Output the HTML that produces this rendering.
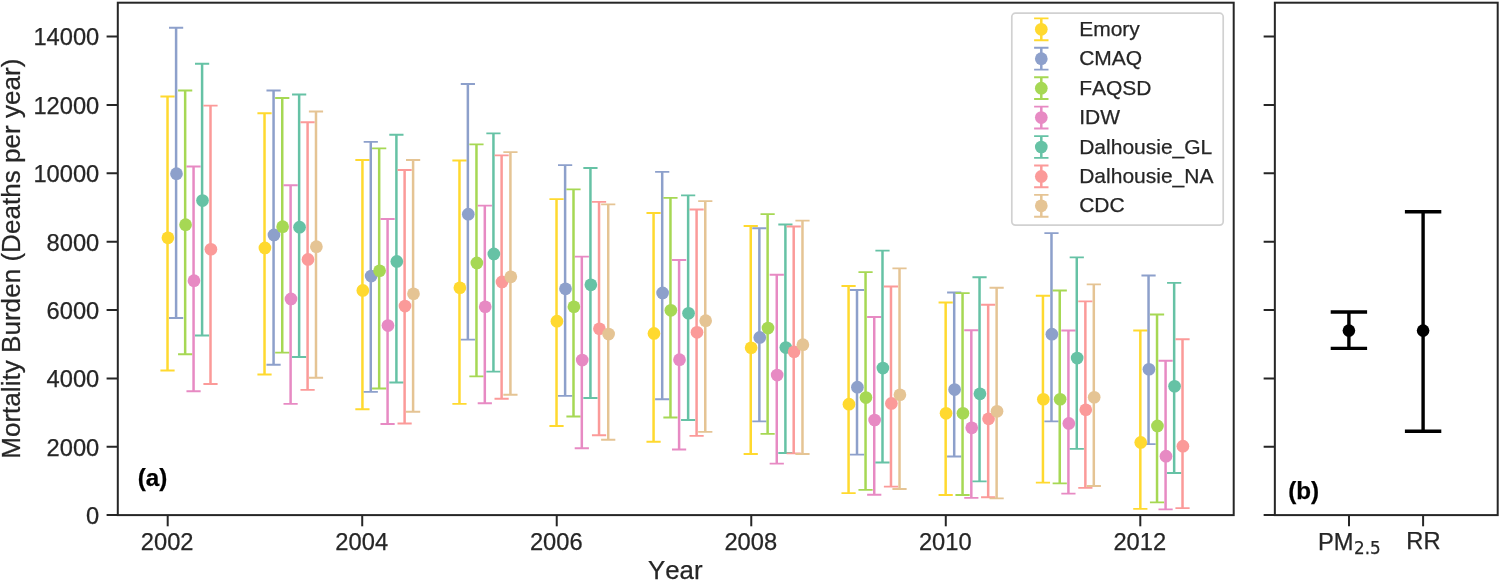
<!DOCTYPE html>
<html lang="en"><head><meta charset="utf-8"><title>Mortality Burden by Year</title>
<style>html,body{margin:0;padding:0;background:#fff;}body{width:1500px;height:581px;overflow:hidden;}svg{display:block;}text{stroke:#262626;stroke-width:0.25px;}text.b{stroke:#000;}</style>
</head><body>
<svg width="1500" height="581" viewBox="0 0 1500 581" font-family="'Liberation Sans', sans-serif" fill="#262626" style="font-kerning:none">
<rect x="0" y="0" width="1500" height="581" fill="#ffffff"/>
<g stroke="#ffd92f" stroke-width="2.5" fill="none">
<path d="M167.52 96.45V370.55"/>
<path d="M160.42 96.45H174.62M160.42 370.55H174.62" stroke-width="1.9"/>
<path d="M264.52 113.25V374.55"/>
<path d="M257.42 113.25H271.62M257.42 374.55H271.62" stroke-width="1.9"/>
<path d="M362.43 160.05V409.25"/>
<path d="M355.33 160.05H369.53M355.33 409.25H369.53" stroke-width="1.9"/>
<path d="M459.47 160.45V403.85"/>
<path d="M452.37 160.45H466.57M452.37 403.85H466.57" stroke-width="1.9"/>
<path d="M556.52 199.15V426.05"/>
<path d="M549.42 199.15H563.62M549.42 426.05H563.62" stroke-width="1.9"/>
<path d="M653.57 213.05V441.75"/>
<path d="M646.47 213.05H660.67M646.47 441.75H660.67" stroke-width="1.9"/>
<path d="M750.73 226.05V454.05"/>
<path d="M743.63 226.05H757.83M743.63 454.05H757.83" stroke-width="1.9"/>
<path d="M848.57 285.95V493.15"/>
<path d="M841.47 285.95H855.67M841.47 493.15H855.67" stroke-width="1.9"/>
<path d="M945.66 302.55V494.95"/>
<path d="M938.56 302.55H952.76M938.56 494.95H952.76" stroke-width="1.9"/>
<path d="M1042.94 295.75V482.65"/>
<path d="M1035.84 295.75H1050.04M1035.84 482.65H1050.04" stroke-width="1.9"/>
<path d="M1140.33 330.55V508.85"/>
<path d="M1133.23 330.55H1147.43M1133.23 508.85H1147.43" stroke-width="1.9"/>
</g>
<g stroke="#8da0cb" stroke-width="2.5" fill="none">
<path d="M176.10 27.75V317.95"/>
<path d="M169.00 27.75H183.20M169.00 317.95H183.20" stroke-width="1.9"/>
<path d="M273.57 90.45V364.75"/>
<path d="M266.47 90.45H280.67M266.47 364.75H280.67" stroke-width="1.9"/>
<path d="M370.78 141.85V391.85"/>
<path d="M363.68 141.85H377.88M363.68 391.85H377.88" stroke-width="1.9"/>
<path d="M467.87 83.95V339.65"/>
<path d="M460.77 83.95H474.97M460.77 339.65H474.97" stroke-width="1.9"/>
<path d="M565.11 165.15V395.85"/>
<path d="M558.01 165.15H572.21M558.01 395.85H572.21" stroke-width="1.9"/>
<path d="M662.20 171.85V399.25"/>
<path d="M655.10 171.85H669.30M655.10 399.25H669.30" stroke-width="1.9"/>
<path d="M759.36 228.25V421.35"/>
<path d="M752.26 228.25H766.46M752.26 421.35H766.46" stroke-width="1.9"/>
<path d="M857.01 290.05V454.65"/>
<path d="M849.91 290.05H864.11M849.91 454.65H864.11" stroke-width="1.9"/>
<path d="M954.20 292.45V456.45"/>
<path d="M947.10 292.45H961.30M947.10 456.45H961.30" stroke-width="1.9"/>
<path d="M1051.48 233.15V421.35"/>
<path d="M1044.38 233.15H1058.58M1044.38 421.35H1058.58" stroke-width="1.9"/>
<path d="M1148.55 275.45V444.15"/>
<path d="M1141.45 275.45H1155.65M1141.45 444.15H1155.65" stroke-width="1.9"/>
</g>
<g stroke="#a6d854" stroke-width="2.5" fill="none">
<path d="M185.16 90.45V354.25"/>
<path d="M178.06 90.45H192.26M178.06 354.25H192.26" stroke-width="1.9"/>
<path d="M282.25 98.05V352.65"/>
<path d="M275.15 98.05H289.35M275.15 352.65H289.35" stroke-width="1.9"/>
<path d="M379.18 148.35V388.45"/>
<path d="M372.08 148.35H386.28M372.08 388.45H386.28" stroke-width="1.9"/>
<path d="M476.46 144.35V376.35"/>
<path d="M469.36 144.35H483.56M469.36 376.35H483.56" stroke-width="1.9"/>
<path d="M573.50 189.35V416.45"/>
<path d="M566.40 189.35H580.60M566.40 416.45H580.60" stroke-width="1.9"/>
<path d="M670.46 197.85V417.55"/>
<path d="M663.36 197.85H677.56M663.36 417.55H677.56" stroke-width="1.9"/>
<path d="M767.62 214.15V433.85"/>
<path d="M760.52 214.15H774.72M760.52 433.85H774.72" stroke-width="1.9"/>
<path d="M865.55 272.15V489.85"/>
<path d="M858.45 272.15H872.65M858.45 489.85H872.65" stroke-width="1.9"/>
<path d="M962.55 293.15V494.95"/>
<path d="M955.45 293.15H969.65M955.45 494.95H969.65" stroke-width="1.9"/>
<path d="M1059.74 290.45V483.35"/>
<path d="M1052.64 290.45H1066.84M1052.64 483.35H1066.84" stroke-width="1.9"/>
<path d="M1157.04 314.55V502.35"/>
<path d="M1149.94 314.55H1164.14M1149.94 502.35H1164.14" stroke-width="1.9"/>
</g>
<g stroke="#e78ac3" stroke-width="2.5" fill="none">
<path d="M193.56 166.45V391.25"/>
<path d="M186.46 166.45H200.66M186.46 391.25H200.66" stroke-width="1.9"/>
<path d="M290.60 185.25V403.85"/>
<path d="M283.50 185.25H297.70M283.50 403.85H297.70" stroke-width="1.9"/>
<path d="M387.58 219.05V424.05"/>
<path d="M380.48 219.05H394.68M380.48 424.05H394.68" stroke-width="1.9"/>
<path d="M484.81 205.65V403.25"/>
<path d="M477.71 205.65H491.91M477.71 403.25H491.91" stroke-width="1.9"/>
<path d="M581.81 256.65V448.25"/>
<path d="M574.71 256.65H588.91M574.71 448.25H588.91" stroke-width="1.9"/>
<path d="M679.09 259.95V449.55"/>
<path d="M671.99 259.95H686.19M671.99 449.55H686.19" stroke-width="1.9"/>
<path d="M776.76 274.75V463.65"/>
<path d="M769.66 274.75H783.86M769.66 463.65H783.86" stroke-width="1.9"/>
<path d="M874.23 317.05V494.75"/>
<path d="M867.13 317.05H881.33M867.13 494.75H881.33" stroke-width="1.9"/>
<path d="M971.32 330.25V497.85"/>
<path d="M964.22 330.25H978.42M964.22 497.85H978.42" stroke-width="1.9"/>
<path d="M1068.42 330.55V493.65"/>
<path d="M1061.32 330.55H1075.52M1061.32 493.65H1075.52" stroke-width="1.9"/>
<path d="M1165.58 360.75V509.35"/>
<path d="M1158.48 360.75H1172.68M1158.48 509.35H1172.68" stroke-width="1.9"/>
</g>
<g stroke="#66c2a5" stroke-width="2.5" fill="none">
<path d="M202.10 63.75V335.45"/>
<path d="M195.00 63.75H209.20M195.00 335.45H209.20" stroke-width="1.9"/>
<path d="M299.14 94.45V356.95"/>
<path d="M292.04 94.45H306.24M292.04 356.95H306.24" stroke-width="1.9"/>
<path d="M396.40 134.75V382.45"/>
<path d="M389.30 134.75H403.50M389.30 382.45H403.50" stroke-width="1.9"/>
<path d="M493.44 133.35V371.65"/>
<path d="M486.34 133.35H500.54M486.34 371.65H500.54" stroke-width="1.9"/>
<path d="M590.44 168.05V398.05"/>
<path d="M583.34 168.05H597.54M583.34 398.05H597.54" stroke-width="1.9"/>
<path d="M688.14 195.35V420.05"/>
<path d="M681.04 195.35H695.24M681.04 420.05H695.24" stroke-width="1.9"/>
<path d="M785.40 224.45V452.95"/>
<path d="M778.30 224.45H792.50M778.30 452.95H792.50" stroke-width="1.9"/>
<path d="M882.49 250.65V462.55"/>
<path d="M875.39 250.65H889.59M875.39 462.55H889.59" stroke-width="1.9"/>
<path d="M979.54 277.25V481.35"/>
<path d="M972.44 277.25H986.64M972.44 481.35H986.64" stroke-width="1.9"/>
<path d="M1076.77 257.35V448.85"/>
<path d="M1069.67 257.35H1083.87M1069.67 448.85H1083.87" stroke-width="1.9"/>
<path d="M1174.16 282.85V473.05"/>
<path d="M1167.06 282.85H1181.26M1167.06 473.05H1181.26" stroke-width="1.9"/>
</g>
<g stroke="#fb9a99" stroke-width="2.5" fill="none">
<path d="M210.50 105.65V383.95"/>
<path d="M203.40 105.65H217.60M203.40 383.95H217.60" stroke-width="1.9"/>
<path d="M307.59 122.25V389.85"/>
<path d="M300.49 122.25H314.69M300.49 389.85H314.69" stroke-width="1.9"/>
<path d="M404.61 170.05V423.55"/>
<path d="M397.51 170.05H411.71M397.51 423.55H411.71" stroke-width="1.9"/>
<path d="M501.61 155.35V398.75"/>
<path d="M494.51 155.35H508.71M494.51 398.75H508.71" stroke-width="1.9"/>
<path d="M599.03 201.85V435.25"/>
<path d="M591.93 201.85H606.13M591.93 435.25H606.13" stroke-width="1.9"/>
<path d="M696.59 209.45V435.85"/>
<path d="M689.49 209.45H703.69M689.49 435.85H703.69" stroke-width="1.9"/>
<path d="M793.70 226.45V453.35"/>
<path d="M786.60 226.45H800.80M786.60 453.35H800.80" stroke-width="1.9"/>
<path d="M890.98 286.45V486.65"/>
<path d="M883.88 286.45H898.08M883.88 486.65H898.08" stroke-width="1.9"/>
<path d="M988.17 304.75V497.25"/>
<path d="M981.07 304.75H995.27M981.07 497.25H995.27" stroke-width="1.9"/>
<path d="M1085.36 301.35V487.85"/>
<path d="M1078.26 301.35H1092.46M1078.26 487.85H1092.46" stroke-width="1.9"/>
<path d="M1182.52 339.25V508.15"/>
<path d="M1175.42 339.25H1189.62M1175.42 508.15H1189.62" stroke-width="1.9"/>
</g>
<g stroke="#e5c494" stroke-width="2.5" fill="none">
<path d="M315.99 111.45V377.75"/>
<path d="M308.89 111.45H323.09M308.89 377.75H323.09" stroke-width="1.9"/>
<path d="M413.10 160.05V411.75"/>
<path d="M406.00 160.05H420.20M406.00 411.75H420.20" stroke-width="1.9"/>
<path d="M510.43 152.15V394.75"/>
<path d="M503.33 152.15H517.53M503.33 394.75H517.53" stroke-width="1.9"/>
<path d="M608.22 204.35V439.75"/>
<path d="M601.12 204.35H615.32M601.12 439.75H615.32" stroke-width="1.9"/>
<path d="M705.27 201.15V431.85"/>
<path d="M698.17 201.15H712.37M698.17 431.85H712.37" stroke-width="1.9"/>
<path d="M802.48 220.65V454.05"/>
<path d="M795.38 220.65H809.58M795.38 454.05H809.58" stroke-width="1.9"/>
<path d="M899.52 268.35V488.95"/>
<path d="M892.42 268.35H906.62M892.42 488.95H906.62" stroke-width="1.9"/>
<path d="M996.62 287.75V498.35"/>
<path d="M989.52 287.75H1003.72M989.52 498.35H1003.72" stroke-width="1.9"/>
<path d="M1093.80 284.35V486.05"/>
<path d="M1086.70 284.35H1100.90M1086.70 486.05H1100.90" stroke-width="1.9"/>
</g>
<g fill="#ffd92f">
<circle cx="167.92" cy="237.85" r="6.35"/>
<circle cx="264.92" cy="247.95" r="6.35"/>
<circle cx="362.83" cy="290.45" r="6.35"/>
<circle cx="459.87" cy="287.75" r="6.35"/>
<circle cx="556.92" cy="321.15" r="6.35"/>
<circle cx="653.97" cy="333.45" r="6.35"/>
<circle cx="751.13" cy="347.75" r="6.35"/>
<circle cx="848.97" cy="404.15" r="6.35"/>
<circle cx="946.06" cy="413.30" r="6.35"/>
<circle cx="1043.34" cy="399.25" r="6.35"/>
<circle cx="1140.73" cy="442.45" r="6.35"/>
</g>
<g fill="#8da0cb">
<circle cx="176.50" cy="173.65" r="6.35"/>
<circle cx="273.97" cy="234.95" r="6.35"/>
<circle cx="371.18" cy="276.05" r="6.35"/>
<circle cx="468.27" cy="214.15" r="6.35"/>
<circle cx="565.51" cy="288.85" r="6.35"/>
<circle cx="662.60" cy="292.95" r="6.35"/>
<circle cx="759.76" cy="337.45" r="6.35"/>
<circle cx="857.41" cy="387.15" r="6.35"/>
<circle cx="954.60" cy="389.55" r="6.35"/>
<circle cx="1051.88" cy="334.15" r="6.35"/>
<circle cx="1148.95" cy="369.25" r="6.35"/>
</g>
<g fill="#a6d854">
<circle cx="185.56" cy="224.65" r="6.35"/>
<circle cx="282.65" cy="226.65" r="6.35"/>
<circle cx="379.58" cy="270.75" r="6.35"/>
<circle cx="476.86" cy="262.95" r="6.35"/>
<circle cx="573.90" cy="306.75" r="6.35"/>
<circle cx="670.86" cy="310.35" r="6.35"/>
<circle cx="768.02" cy="328.05" r="6.35"/>
<circle cx="865.95" cy="397.55" r="6.35"/>
<circle cx="962.95" cy="413.25" r="6.35"/>
<circle cx="1060.14" cy="399.25" r="6.35"/>
<circle cx="1157.44" cy="425.95" r="6.35"/>
</g>
<g fill="#e78ac3">
<circle cx="193.96" cy="280.65" r="6.35"/>
<circle cx="291.00" cy="298.95" r="6.35"/>
<circle cx="387.98" cy="325.55" r="6.35"/>
<circle cx="485.21" cy="306.75" r="6.35"/>
<circle cx="582.21" cy="360.05" r="6.35"/>
<circle cx="679.49" cy="359.65" r="6.35"/>
<circle cx="777.16" cy="375.05" r="6.35"/>
<circle cx="874.63" cy="420.00" r="6.35"/>
<circle cx="971.72" cy="427.85" r="6.35"/>
<circle cx="1068.82" cy="423.45" r="6.35"/>
<circle cx="1165.98" cy="456.15" r="6.35"/>
</g>
<g fill="#66c2a5">
<circle cx="202.50" cy="200.55" r="6.35"/>
<circle cx="299.54" cy="227.15" r="6.35"/>
<circle cx="396.80" cy="261.45" r="6.35"/>
<circle cx="493.84" cy="253.95" r="6.35"/>
<circle cx="590.84" cy="284.85" r="6.35"/>
<circle cx="688.54" cy="313.25" r="6.35"/>
<circle cx="785.80" cy="347.55" r="6.35"/>
<circle cx="882.89" cy="368.10" r="6.35"/>
<circle cx="979.94" cy="393.85" r="6.35"/>
<circle cx="1077.17" cy="358.05" r="6.35"/>
<circle cx="1174.56" cy="386.25" r="6.35"/>
</g>
<g fill="#fb9a99">
<circle cx="210.90" cy="249.25" r="6.35"/>
<circle cx="307.99" cy="259.45" r="6.35"/>
<circle cx="405.01" cy="306.05" r="6.35"/>
<circle cx="502.01" cy="281.95" r="6.35"/>
<circle cx="599.43" cy="328.75" r="6.35"/>
<circle cx="696.99" cy="332.35" r="6.35"/>
<circle cx="794.10" cy="351.75" r="6.35"/>
<circle cx="891.38" cy="403.45" r="6.35"/>
<circle cx="988.57" cy="418.85" r="6.35"/>
<circle cx="1085.76" cy="409.75" r="6.35"/>
<circle cx="1182.92" cy="446.15" r="6.35"/>
</g>
<g fill="#e5c494">
<circle cx="316.39" cy="246.65" r="6.35"/>
<circle cx="413.50" cy="293.75" r="6.35"/>
<circle cx="510.83" cy="276.85" r="6.35"/>
<circle cx="608.62" cy="334.05" r="6.35"/>
<circle cx="705.67" cy="320.65" r="6.35"/>
<circle cx="802.88" cy="344.65" r="6.35"/>
<circle cx="899.92" cy="394.75" r="6.35"/>
<circle cx="997.02" cy="411.35" r="6.35"/>
<circle cx="1094.20" cy="397.25" r="6.35"/>
</g>
<rect x="1011.8" y="13.2" width="211.4" height="212.0" rx="3.6" ry="3.6" fill="#ffffff" fill-opacity="0.8" stroke="#cccccc" stroke-opacity="0.9" stroke-width="1.7"/>
<g stroke="#ffd92f" stroke-width="2.5" fill="#ffd92f"><path d="M1041.3 18.40V40.20" fill="none"/><path d="M1034.10 18.40H1048.50M1034.10 40.20H1048.50" fill="none" stroke-width="1.9"/><circle cx="1041.3" cy="29.30" r="6.35" stroke="none"/></g>
<text x="1079.2" y="35.90" font-size="21">Emory</text>
<g stroke="#8da0cb" stroke-width="2.5" fill="#8da0cb"><path d="M1041.3 47.82V69.62" fill="none"/><path d="M1034.10 47.82H1048.50M1034.10 69.62H1048.50" fill="none" stroke-width="1.9"/><circle cx="1041.3" cy="58.72" r="6.35" stroke="none"/></g>
<text x="1079.2" y="65.32" font-size="21">CMAQ</text>
<g stroke="#a6d854" stroke-width="2.5" fill="#a6d854"><path d="M1041.3 77.24V99.04" fill="none"/><path d="M1034.10 77.24H1048.50M1034.10 99.04H1048.50" fill="none" stroke-width="1.9"/><circle cx="1041.3" cy="88.14" r="6.35" stroke="none"/></g>
<text x="1079.2" y="94.74" font-size="21">FAQSD</text>
<g stroke="#e78ac3" stroke-width="2.5" fill="#e78ac3"><path d="M1041.3 106.66V128.46" fill="none"/><path d="M1034.10 106.66H1048.50M1034.10 128.46H1048.50" fill="none" stroke-width="1.9"/><circle cx="1041.3" cy="117.56" r="6.35" stroke="none"/></g>
<text x="1079.2" y="124.16" font-size="21">IDW</text>
<g stroke="#66c2a5" stroke-width="2.5" fill="#66c2a5"><path d="M1041.3 136.08V157.88" fill="none"/><path d="M1034.10 136.08H1048.50M1034.10 157.88H1048.50" fill="none" stroke-width="1.9"/><circle cx="1041.3" cy="146.98" r="6.35" stroke="none"/></g>
<text x="1079.2" y="153.58" font-size="21">Dalhousie_GL</text>
<g stroke="#fb9a99" stroke-width="2.5" fill="#fb9a99"><path d="M1041.3 165.50V187.30" fill="none"/><path d="M1034.10 165.50H1048.50M1034.10 187.30H1048.50" fill="none" stroke-width="1.9"/><circle cx="1041.3" cy="176.40" r="6.35" stroke="none"/></g>
<text x="1079.2" y="183.00" font-size="21">Dalhousie_NA</text>
<g stroke="#e5c494" stroke-width="2.5" fill="#e5c494"><path d="M1041.3 194.92V216.72" fill="none"/><path d="M1034.10 194.92H1048.50M1034.10 216.72H1048.50" fill="none" stroke-width="1.9"/><circle cx="1041.3" cy="205.82" r="6.35" stroke="none"/></g>
<text x="1079.2" y="212.42" font-size="21">CDC</text>
<g stroke="#262626" stroke-width="2.0" fill="none" stroke-linecap="square">
<rect x="117.8" y="2.7" width="1115.90" height="512.40"/>
<rect x="1274.85" y="2.7" width="222.85" height="512.40"/>
</g>
<g stroke="#262626" stroke-width="2.0" fill="none">
<path d="M117.8 515.10h-11.2M1274.85 515.10h-11.2"/>
<path d="M117.8 446.74h-11.2M1274.85 446.74h-11.2"/>
<path d="M117.8 378.39h-11.2M1274.85 378.39h-11.2"/>
<path d="M117.8 310.03h-11.2M1274.85 310.03h-11.2"/>
<path d="M117.8 241.67h-11.2M1274.85 241.67h-11.2"/>
<path d="M117.8 173.31h-11.2M1274.85 173.31h-11.2"/>
<path d="M117.8 104.96h-11.2M1274.85 104.96h-11.2"/>
<path d="M117.8 36.60h-11.2M1274.85 36.60h-11.2"/>
<path d="M167.70 515.1v11.2"/>
<path d="M362.22 515.1v11.2"/>
<path d="M556.74 515.1v11.2"/>
<path d="M751.26 515.1v11.2"/>
<path d="M945.78 515.1v11.2"/>
<path d="M1140.30 515.1v11.2"/>
<path d="M1349.00 515.1v11.2"/>
<path d="M1423.10 515.1v11.2"/>
</g>
<g font-size="23.7">
<text x="99.3" y="523.95" text-anchor="end">0</text>
<text x="99.3" y="455.59" text-anchor="end">2000</text>
<text x="99.3" y="387.24" text-anchor="end">4000</text>
<text x="99.3" y="318.88" text-anchor="end">6000</text>
<text x="99.3" y="250.52" text-anchor="end">8000</text>
<text x="99.3" y="182.16" text-anchor="end">10000</text>
<text x="99.3" y="113.81" text-anchor="end">12000</text>
<text x="99.3" y="45.45" text-anchor="end">14000</text>
<text x="167.20" y="549.5" text-anchor="middle">2002</text>
<text x="361.72" y="549.5" text-anchor="middle">2004</text>
<text x="556.24" y="549.5" text-anchor="middle">2006</text>
<text x="750.76" y="549.5" text-anchor="middle">2008</text>
<text x="945.28" y="549.5" text-anchor="middle">2010</text>
<text x="1139.80" y="549.5" text-anchor="middle">2012</text>
<text x="1318.05" y="550.25">PM<tspan font-family="'DejaVu Sans', sans-serif" font-size="16.8" dx="0.4" dy="4.0">2.5</tspan></text>
<text x="1423.4" y="549.45" text-anchor="middle">RR</text>
</g>
<text x="675.3" y="578.9" font-size="25.8" text-anchor="middle">Year</text>
<text transform="translate(19.6 258.7) rotate(-90)" font-size="26.1" text-anchor="middle">Mortality Burden (Deaths per year)</text>
<text x="137.8" y="485.9" font-size="24.2" font-weight="bold" fill="#000000" class="b">(a)</text>
<text x="1288.2" y="499.3" font-size="24.2" font-weight="bold" fill="#000000" class="b">(b)</text>
<g stroke="#000000" stroke-width="3.4" fill="#000000">
<path d="M1348.9 312.0V348.4M1330.70 312.0H1367.10M1330.70 348.4H1367.10" fill="none"/><circle cx="1348.9" cy="330.6" r="6.3" stroke="none"/>
<path d="M1423.1 211.7V431.3M1404.90 211.7H1441.30M1404.90 431.3H1441.30" fill="none"/><circle cx="1423.1" cy="330.6" r="6.3" stroke="none"/>
</g>
</svg>
</body></html>
